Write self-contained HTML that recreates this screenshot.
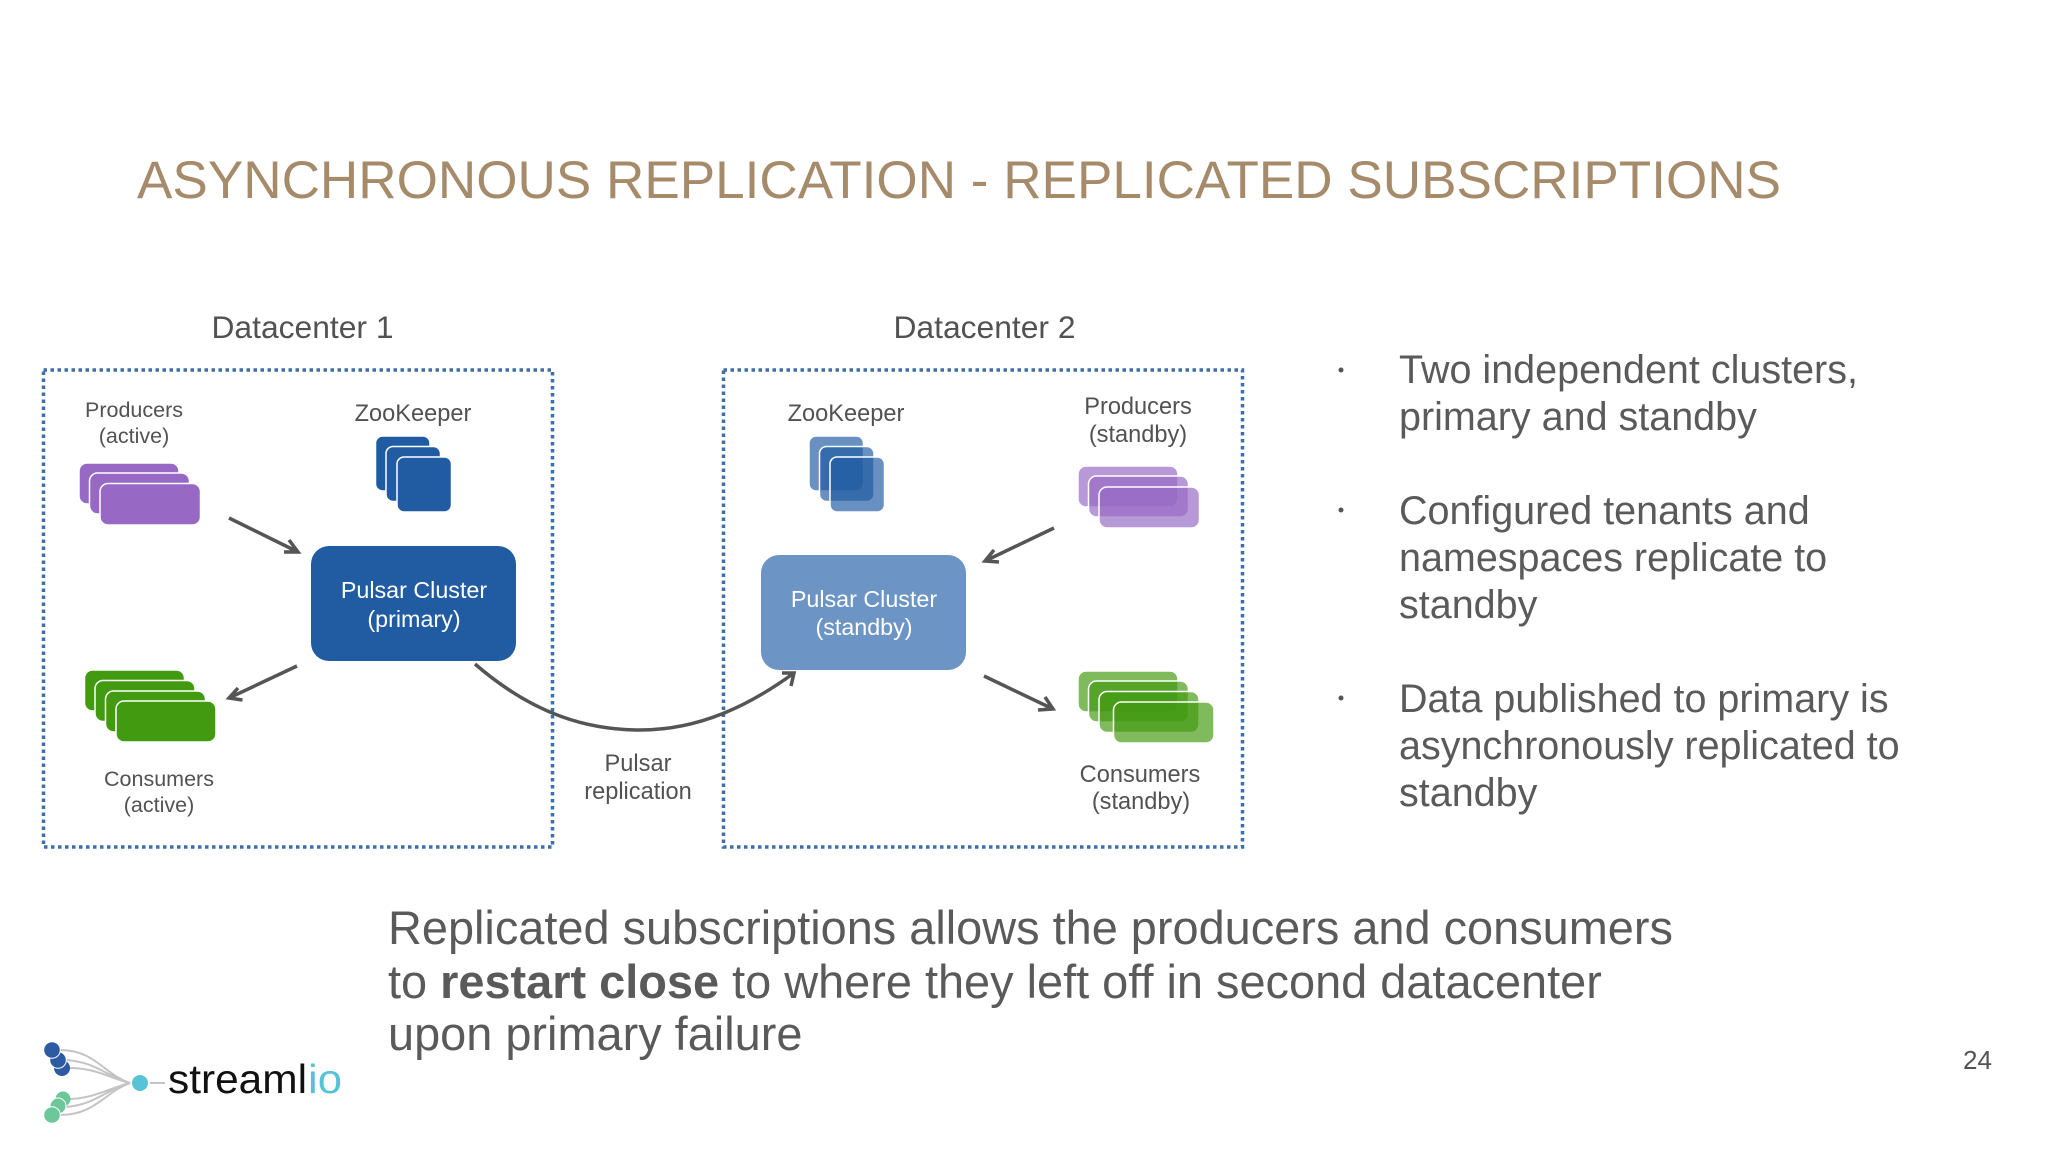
<!DOCTYPE html>
<html><head><meta charset="utf-8"><style>
html,body{margin:0;padding:0;background:#fff}
svg{display:block}
text{font-family:"Liberation Sans",sans-serif;fill:#525252}
.c{text-anchor:middle}
.s{font-size:21.500px}.m{font-size:23.600px}
.w{fill:#fff;font-size:23.300px;text-anchor:middle}
.b{font-size:39.500px;fill:#5a5a5a}
.l{font-size:46.900px;fill:#5a5a5a}
.p{fill:#9768c4;stroke:#fff;stroke-width:1.5}
.g{fill:#429a10;stroke:#fff;stroke-width:1.5}
.z{fill:#215ca2;stroke:#fff;stroke-width:1.5}
.t rect{fill-opacity:.68}
.a{fill:none;stroke:#555;stroke-width:3.5}
.d{fill:none;stroke:#3f6fa8;stroke-width:3.5;stroke-dasharray:3.5 3.5}
</style></head><body>
<svg xmlns="http://www.w3.org/2000/svg" width="2048" height="1152" viewBox="0 0 2048 1152">
<rect width="2048" height="1152" fill="#fff"/>
<text x="137" y="198" font-size="53" style="fill:#a68b6b" textLength="1644" lengthAdjust="spacingAndGlyphs">ASYNCHRONOUS REPLICATION - REPLICATED SUBSCRIPTIONS</text>

<text x="302.500" y="338" class="c" font-size="31.800">Datacenter 1</text>
<text x="984.500" y="338" class="c" font-size="31.800">Datacenter 2</text>
<rect x="43.500" y="370" width="509" height="477" class="d"/>
<rect x="723.500" y="370" width="519" height="477" class="d"/>

<!-- DC1 -->
<text x="134" y="417" class="c s">Producers</text>
<text x="134" y="443" class="c s">(active)</text>
<rect x="79" y="463" width="100" height="41" rx="8" class="p"/>
<rect x="89.500" y="473" width="100" height="41" rx="8" class="p"/>
<rect x="100" y="483.500" width="100.500" height="41.500" rx="8" class="p"/>
<text x="413" y="421" class="c m">ZooKeeper</text>
<rect x="375.500" y="436" width="54.500" height="55" rx="7" class="z"/>
<rect x="386" y="446.500" width="54.500" height="55" rx="7" class="z"/>
<rect x="397" y="457" width="54.500" height="55" rx="7" class="z"/>
<rect x="311" y="546" width="205" height="115" rx="18" fill="#215ca2"/>
<text x="414" y="598" class="w">Pulsar Cluster</text>
<text x="414" y="627" class="w">(primary)</text>
<rect x="84.500" y="670" width="100" height="41" rx="8" class="g"/>
<rect x="95" y="680.500" width="100" height="41" rx="8" class="g"/>
<rect x="105.500" y="691" width="100" height="41" rx="8" class="g"/>
<rect x="116" y="701" width="100" height="41" rx="8" class="g"/>
<text x="159" y="786" class="c s">Consumers</text>
<text x="159" y="812" class="c s">(active)</text>
<path d="M229 518L298 552M289 540L298 552L284 552" class="a"/>
<path d="M297 666L229 698M238 688L229 698L242.500 700" class="a"/>

<!-- connector -->
<path d="M475 664C535 716 590 730 640 730C700 730 750 705 794 673M782 673L794 673L791 686" class="a"/>
<text x="638" y="771" class="c m">Pulsar</text>
<text x="638" y="799" class="c m">replication</text>

<!-- DC2 -->
<text x="846" y="421" class="c m">ZooKeeper</text>
<g class="t">
<rect x="809" y="436" width="54.500" height="55" rx="7" class="z"/>
<rect x="819.500" y="446.500" width="54.500" height="55" rx="7" class="z"/>
<rect x="830" y="457" width="54.500" height="55" rx="7" class="z"/>
</g>
<text x="1138" y="414" class="c m">Producers</text>
<text x="1138" y="442" class="c m">(standby)</text>
<g class="t">
<rect x="1078" y="466" width="100" height="41" rx="8" class="p"/>
<rect x="1088.500" y="476" width="100" height="41" rx="8" class="p"/>
<rect x="1099" y="487" width="100.500" height="41" rx="8" class="p"/>
</g>
<rect x="761" y="555" width="205" height="115" rx="18" fill="#6c94c4"/>
<text x="864" y="607" class="w">Pulsar Cluster</text>
<text x="864" y="635" class="w">(standby)</text>
<g class="t">
<rect x="1078" y="671" width="100" height="41" rx="8" class="g"/>
<rect x="1088.500" y="681" width="100" height="41" rx="8" class="g"/>
<rect x="1099" y="691.500" width="100" height="41" rx="8" class="g"/>
<rect x="1113.500" y="702" width="100.500" height="41" rx="8" class="g"/>
</g>
<text x="1140" y="782" class="c m">Consumers</text>
<text x="1141" y="809" class="c m">(standby)</text>
<path d="M1054 528L985 561M994 550L985 561L999 562" class="a"/>
<path d="M984 676L1053 709M1045 697L1053 709L1038 710" class="a"/>

<!-- bullets -->
<circle cx="1341" cy="370" r="2.500" fill="#555"/>
<circle cx="1341" cy="510" r="2.500" fill="#555"/>
<circle cx="1341" cy="698" r="2.500" fill="#555"/>
<text x="1399" y="383" class="b">Two independent clusters,</text>
<text x="1399" y="430" class="b">primary and standby</text>
<text x="1399" y="524" class="b">Configured tenants and</text>
<text x="1399" y="571" class="b">namespaces replicate to</text>
<text x="1399" y="618" class="b">standby</text>
<text x="1399" y="712" class="b">Data published to primary is</text>
<text x="1399" y="759" class="b">asynchronously replicated to</text>
<text x="1399" y="806" class="b">standby</text>

<text x="388" y="944" class="l">Replicated subscriptions allows the producers and consumers</text>
<text x="388" y="998" class="l">to <tspan font-weight="bold">restart close</tspan> to where they left off in second datacenter</text>
<text x="388" y="1050" class="l">upon primary failure</text>
<text x="1963" y="1069" font-size="26">24</text>

<!-- logo -->
<g fill="none" stroke="#c4c4c4" stroke-width="2">
<path d="M60 1050C95 1050 105 1075 130 1083"/>
<path d="M66 1060C95 1062 105 1075 130 1083"/>
<path d="M70 1068C95 1068 110 1078 130 1083"/>
<path d="M70 1099C95 1098 110 1088 130 1083"/>
<path d="M65 1107C95 1105 105 1090 130 1083"/>
<path d="M60 1115C95 1115 105 1092 130 1083"/>
<path d="M150 1083H165"/>
</g>
<circle cx="62" cy="1068" r="8" fill="#2d5ba3"/>
<circle cx="58" cy="1060" r="8.300" fill="#2d5ba3" stroke="#fff"/>
<circle cx="52" cy="1050" r="8.300" fill="#2d5ba3" stroke="#fff"/>
<circle cx="63" cy="1099" r="7.500" fill="#6cc79a"/>
<circle cx="58" cy="1106" r="8" fill="#6cc79a" stroke="#fff"/>
<circle cx="52" cy="1115" r="8.300" fill="#6cc79a" stroke="#fff"/>
<circle cx="140" cy="1083" r="8" fill="#56c4d6"/>
<text x="168" y="1093" font-size="41" style="fill:#111" textLength="139" lengthAdjust="spacingAndGlyphs">streaml</text>
<text x="308" y="1093" font-size="41" style="fill:#56c4d6" textLength="34" lengthAdjust="spacingAndGlyphs">io</text>
</svg>
</body></html>
